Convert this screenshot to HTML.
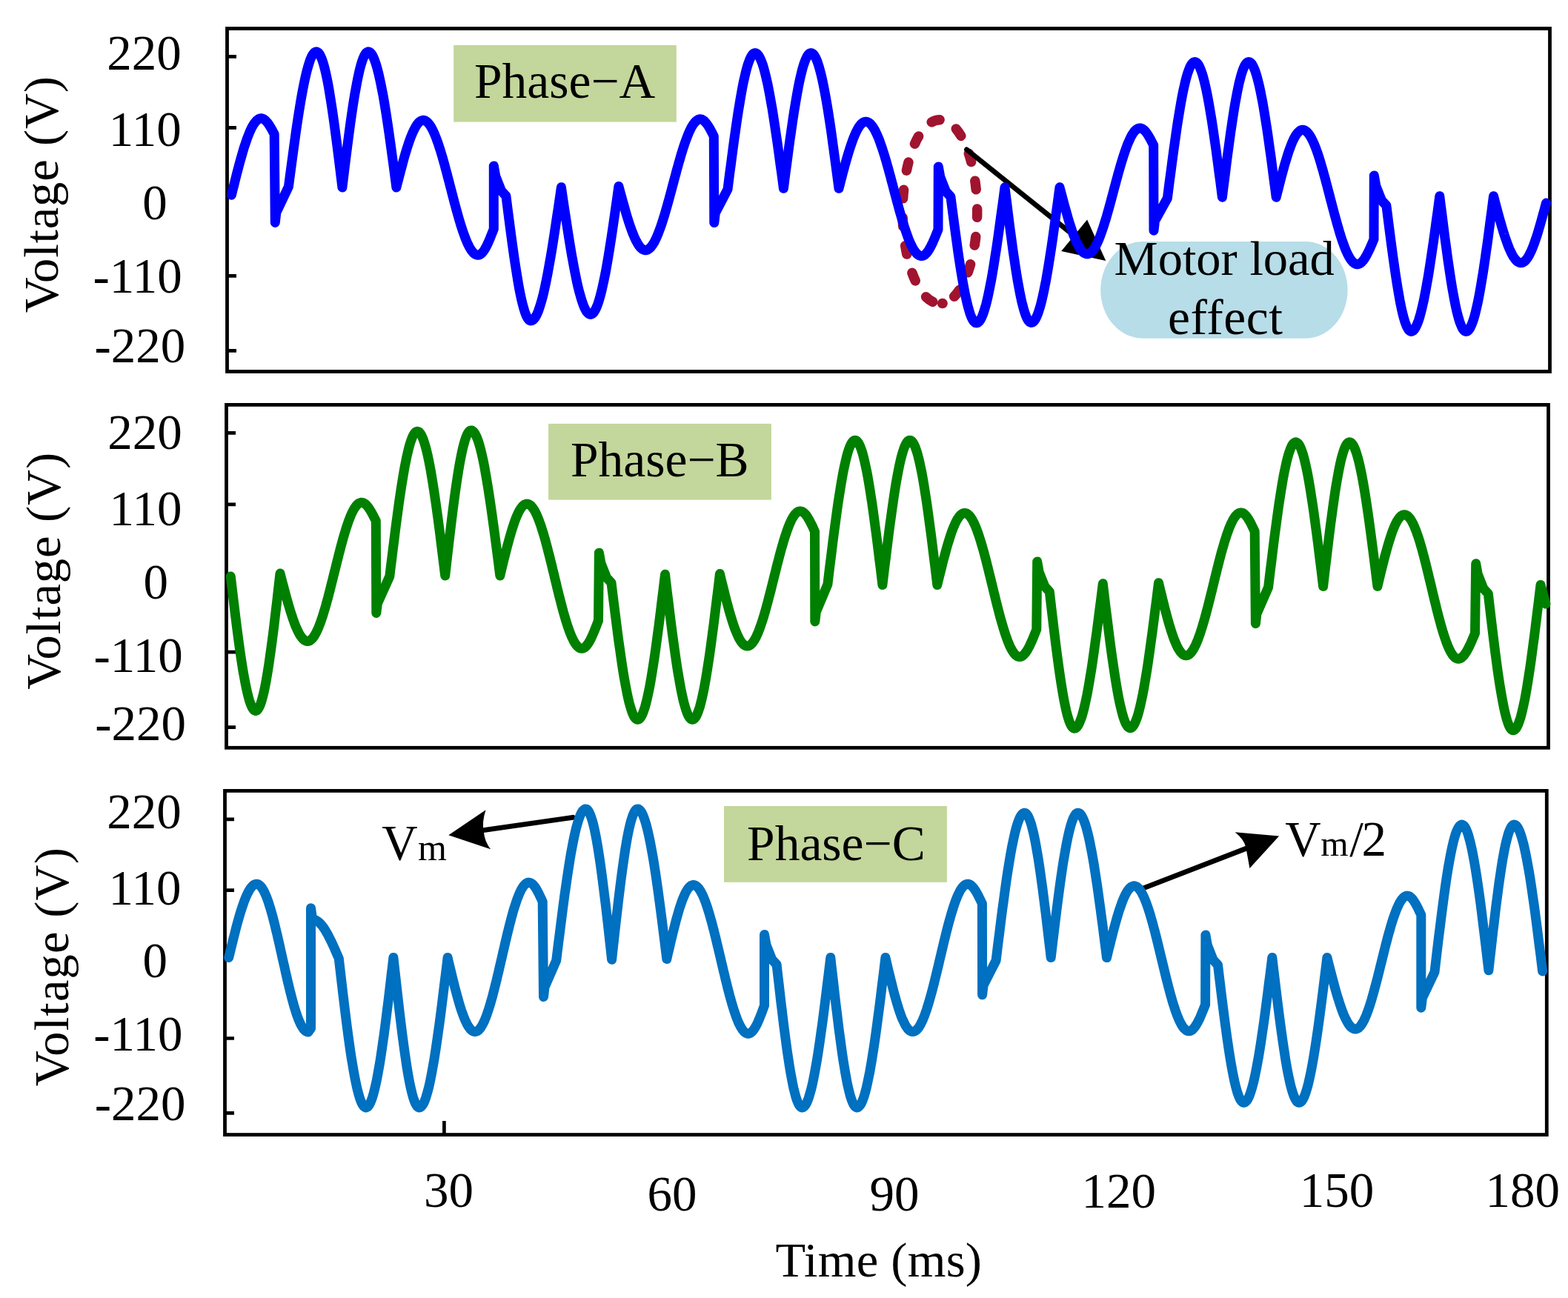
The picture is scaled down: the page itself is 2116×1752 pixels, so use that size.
<!DOCTYPE html>
<html><head><meta charset="utf-8"><title>Three-phase voltage waveforms</title>
<style>
html,body{margin:0;padding:0;background:#fff;}
svg{display:block;}
text{font-family:"Liberation Serif","Times New Roman",serif;fill:#000;}
</style></head>
<body>
<svg width="2116" height="1752" viewBox="0 0 2116 1752">
<rect x="0" y="0" width="2116" height="1752" fill="#fff"/>
<!-- frames -->
<g fill="none" stroke="#000" stroke-width="4.8">
<rect x="306.5" y="38.5" width="1785" height="463"/>
<rect x="305.5" y="546.4" width="1784" height="462.9"/>
<rect x="303.5" y="1067.4" width="1783.8" height="464.2"/>
</g>
<g stroke="#000" stroke-width="4.7" stroke-linecap="butt">
<path d="M306.5 76.4H319M306.5 172.4H319M306.5 372.3H319M306.5 473.4H319"/>
<path d="M305.5 584.4H318M305.5 680.8H318M305.5 880.1H318M305.5 981.6H318"/>
<path d="M303.5 1105.9H316M303.5 1201.7H316M303.5 1401.5H316M303.5 1502.4H316"/>
<path d="M599.4 1531.6V1513"/>
</g>
<!-- label boxes -->
<rect x="612.2" y="61" width="300.6" height="103.6" fill="#C3D69B"/>
<rect x="740.1" y="571.9" width="300.8" height="102.7" fill="#C3D69B"/>
<rect x="977" y="1088" width="300.9" height="102.8" fill="#C3D69B"/>
<rect x="1485.2" y="326.1" width="333.4" height="130.6" rx="57" ry="65.3" fill="#B7DDE8"/>
<!-- ellipse -->
<g fill="none" stroke="#A0142F" stroke-width="13.5" stroke-linecap="round"><path d="M1268.4 409.7 A50.3 124 0 0 1 1268.4 161.7 A50.3 124 0 0 1 1268.4 409.7" stroke-dasharray="11.5 26.25" stroke-dashoffset="27.8"/><path d="M1271.6 409.5 l0.5 0"/></g>
<!-- arrows -->
<g stroke="#000" stroke-linecap="round" fill="none">
<line x1="1304.5" y1="201.9" x2="1470" y2="334.5" stroke-width="6.8"/>
<line x1="773" y1="1103.3" x2="640" y2="1122.3" stroke-width="6.8"/>
<line x1="1543.6" y1="1198.6" x2="1690" y2="1142" stroke-width="6.8"/>
</g>
<g fill="#000">
<polygon points="1492.3,352.1 1467.1,296.5 1432.2,338.9"/>
<path d="M605.3 1127.2 L655.5 1093.3 Q650 1110 652.9 1123.2 Q654 1136 662.1 1146.2 Z"/>
<path d="M1726.1 1128.5 L1666.6 1123.2 Q1678 1132 1681.1 1143 Q1684 1158 1686.4 1172.1 Z"/>
</g>
<!-- traces -->
<g fill="none" stroke-width="13" stroke-linejoin="round" stroke-linecap="round">
<polyline stroke="#0000FF" points="312.4,263.2 313.8,257.4 315.3,251.6 316.7,245.9 318.1,240.2 319.5,234.6 321.0,229.0 322.4,223.6 323.8,218.3 325.3,213.2 326.7,208.2 328.1,203.4 329.5,198.7 331.0,194.3 332.4,190.1 333.8,186.1 335.3,182.4 336.7,178.9 338.1,175.6 339.5,172.7 341.0,170.0 342.4,167.7 343.8,165.6 345.3,163.8 346.7,162.4 348.1,161.3 349.5,160.5 351.0,160.0 352.4,159.8 353.8,160.0 355.1,160.4 356.5,161.2 357.9,162.2 359.2,163.6 360.6,165.1 362.0,166.9 363.4,169.0 364.7,171.1 366.1,173.5 367.5,175.9 368.8,178.4 370.2,181.0 371.3,300.4 372.8,287.0 389.4,252.0 390.8,241.4 392.2,230.8 393.6,220.4 395.0,210.0 396.4,199.7 397.8,189.7 399.1,179.8 400.5,170.2 401.9,160.9 403.3,151.9 404.7,143.2 406.1,134.9 407.5,127.0 408.9,119.5 410.3,112.4 411.7,105.9 413.1,99.8 414.5,94.2 415.9,89.2 417.3,84.7 418.6,80.8 420.0,77.5 421.4,74.7 422.8,72.6 424.2,71.0 425.6,70.1 427.0,69.8 428.4,70.2 429.8,71.2 431.2,73.0 432.6,75.6 434.0,78.8 435.4,82.7 436.8,87.2 438.2,92.5 439.6,98.3 441.0,104.8 442.4,111.8 443.8,119.5 445.1,127.6 446.5,136.2 447.9,145.3 449.3,154.8 450.7,164.7 452.1,175.0 453.5,185.6 454.9,196.4 456.3,207.4 457.7,218.7 459.1,230.0 460.5,241.5 461.9,253.0 463.3,241.5 464.7,230.0 466.1,218.7 467.5,207.4 468.9,196.4 470.3,185.6 471.7,175.0 473.1,164.7 474.5,154.8 475.9,145.3 477.3,136.2 478.7,127.6 480.2,119.5 481.6,111.8 483.0,104.8 484.4,98.3 485.8,92.5 487.2,87.2 488.6,82.7 490.0,78.8 491.4,75.6 492.8,73.0 494.2,71.2 495.6,70.2 497.0,69.8 498.4,70.1 499.8,71.0 501.2,72.6 502.6,74.7 504.0,77.5 505.4,80.8 506.8,84.8 508.2,89.3 509.6,94.3 511.0,99.9 512.4,106.1 513.8,112.7 515.2,119.7 516.7,127.3 518.1,135.2 519.5,143.6 520.9,152.3 522.3,161.4 523.7,170.8 525.1,180.4 526.5,190.3 527.9,200.5 529.3,210.8 530.7,221.2 532.1,231.7 533.5,242.3 534.9,253.0 536.3,247.5 537.7,242.1 539.1,236.7 540.5,231.3 541.9,226.0 543.3,220.8 544.6,215.8 546.0,210.8 547.4,206.1 548.8,201.5 550.2,197.1 551.6,192.9 553.0,188.9 554.4,185.1 555.8,181.6 557.2,178.4 558.6,175.4 560.0,172.7 561.4,170.3 562.7,168.2 564.1,166.4 565.5,164.9 566.9,163.8 568.3,163.0 569.7,162.5 571.1,162.3 572.5,162.5 574.0,163.0 575.4,163.8 576.9,165.0 578.3,166.6 579.8,168.4 581.2,170.6 582.7,173.1 584.1,175.9 585.6,179.0 587.0,182.4 588.5,186.1 589.9,190.0 591.4,194.1 592.8,198.5 594.3,203.0 595.7,207.8 597.2,212.7 598.6,217.8 600.1,223.1 601.5,228.4 603.0,233.8 604.4,239.3 605.9,244.9 607.3,250.5 608.8,256.1 610.2,261.7 611.7,267.3 613.1,272.8 614.6,278.2 616.0,283.5 617.5,288.8 618.9,293.9 620.4,298.8 621.8,303.6 623.3,308.1 624.7,312.5 626.2,316.6 627.6,320.5 629.1,324.2 630.5,327.6 632.0,330.7 633.4,333.5 634.9,336.0 636.3,338.2 637.8,340.0 639.2,341.6 640.7,342.8 642.1,343.6 643.6,344.1 645.0,344.3 646.3,344.1 647.7,343.6 649.0,342.8 650.3,341.6 651.7,340.1 653.0,338.4 654.3,336.3 655.6,334.0 657.0,331.4 658.3,328.6 659.6,325.6 661.0,322.5 662.3,319.2 663.6,315.9 665.0,312.5 666.3,309.0 666.3,224.0 668.8,238.0 676.5,257.5 682.9,264.5 684.3,275.5 685.7,286.5 687.1,297.4 688.5,308.1 689.9,318.7 691.3,329.0 692.7,339.0 694.1,348.8 695.5,358.1 696.9,367.1 698.3,375.6 699.6,383.6 701.0,391.2 702.4,398.2 703.8,404.6 705.2,410.4 706.6,415.6 708.0,420.2 709.4,424.1 710.8,427.3 712.2,429.8 713.6,431.6 715.0,432.6 716.4,433.0 717.8,432.7 719.2,431.9 720.6,430.6 722.1,428.8 723.5,426.4 724.9,423.6 726.3,420.2 727.7,416.3 729.1,412.0 730.5,407.2 732.0,401.9 733.4,396.3 734.8,390.1 736.2,383.6 737.6,376.7 739.0,369.5 740.4,361.9 741.8,353.9 743.3,345.7 744.7,337.2 746.1,328.5 747.5,319.5 748.9,310.3 750.3,301.0 751.7,291.5 753.2,282.0 754.6,272.3 756.0,262.6 757.4,252.8 758.8,262.4 760.2,272.0 761.6,281.5 763.1,291.0 764.5,300.3 765.9,309.5 767.3,318.5 768.7,327.3 770.1,335.8 771.5,344.1 773.0,352.1 774.4,359.8 775.8,367.1 777.2,374.1 778.6,380.8 780.0,387.0 781.4,392.8 782.9,398.1 784.3,403.0 785.7,407.4 787.1,411.3 788.5,414.8 789.9,417.7 791.3,420.1 792.8,422.0 794.2,423.3 795.6,424.1 797.0,424.4 798.4,424.1 799.8,423.2 801.2,421.8 802.6,419.7 804.0,417.1 805.4,414.0 806.8,410.3 808.2,406.0 809.6,401.2 811.0,396.0 812.4,390.2 813.8,383.9 815.2,377.3 816.7,370.2 818.1,362.6 819.5,354.7 820.9,346.5 822.3,337.9 823.7,329.1 825.1,320.0 826.5,310.6 827.9,301.1 829.3,291.4 830.7,281.5 832.1,271.6 833.5,261.6 834.9,251.5 836.3,256.7 837.7,261.9 839.1,267.0 840.5,272.1 841.9,277.1 843.3,282.1 844.6,286.9 846.0,291.6 847.4,296.1 848.8,300.5 850.2,304.7 851.6,308.7 853.0,312.5 854.4,316.0 855.8,319.4 857.2,322.4 858.6,325.3 860.0,327.8 861.4,330.1 862.7,332.1 864.1,333.8 865.5,335.2 866.9,336.3 868.3,337.1 869.7,337.5 871.1,337.7 872.5,337.5 874.0,337.0 875.4,336.2 876.9,335.0 878.3,333.5 879.8,331.7 881.2,329.6 882.7,327.2 884.1,324.5 885.6,321.4 887.0,318.2 888.5,314.6 889.9,310.8 891.4,306.8 892.8,302.6 894.3,298.1 895.7,293.5 897.2,288.7 898.6,283.7 900.1,278.6 901.5,273.5 903.0,268.2 904.4,262.8 905.9,257.4 907.3,252.0 908.8,246.5 910.2,241.1 911.7,235.7 913.1,230.3 914.6,225.0 916.0,219.9 917.5,214.8 918.9,209.8 920.4,205.0 921.8,200.4 923.3,195.9 924.7,191.7 926.2,187.7 927.6,183.9 929.1,180.3 930.5,177.1 932.0,174.0 933.4,171.3 934.9,168.9 936.3,166.8 937.8,165.0 939.2,163.5 940.7,162.3 942.1,161.5 943.6,161.0 945.0,160.8 946.3,160.9 947.6,161.4 948.9,162.1 950.2,163.1 951.5,164.4 952.8,165.9 954.1,167.6 955.5,169.5 956.8,171.7 958.1,173.9 959.4,176.3 960.7,178.8 962.0,181.4 963.3,184.0 963.8,300.6 965.3,287.6 982.0,255.5 983.4,244.4 984.8,233.3 986.3,222.4 987.7,211.5 989.1,200.8 990.5,190.3 992.0,180.0 993.4,170.0 994.8,160.4 996.2,151.0 997.7,142.1 999.1,133.6 1000.5,125.5 1001.9,117.8 1003.3,110.7 1004.8,104.2 1006.2,98.1 1007.6,92.7 1009.0,87.8 1010.5,83.6 1011.9,79.9 1013.3,76.9 1014.7,74.6 1016.2,72.9 1017.6,71.9 1019.0,71.6 1020.4,71.9 1021.8,72.8 1023.3,74.4 1024.7,76.5 1026.1,79.3 1027.5,82.6 1029.0,86.5 1030.4,91.0 1031.8,96.1 1033.2,101.7 1034.6,107.8 1036.1,114.3 1037.5,121.4 1038.9,128.9 1040.3,136.9 1041.8,145.2 1043.2,153.9 1044.6,162.9 1046.0,172.3 1047.4,181.9 1048.9,191.8 1050.3,201.9 1051.7,212.2 1053.1,222.6 1054.6,233.1 1056.0,243.7 1057.4,254.3 1058.8,243.3 1060.2,232.3 1061.7,221.4 1063.1,210.6 1064.5,199.9 1065.9,189.5 1067.4,179.3 1068.8,169.4 1070.2,159.8 1071.6,150.5 1073.1,141.6 1074.5,133.1 1075.9,125.1 1077.3,117.5 1078.7,110.5 1080.2,103.9 1081.6,97.9 1083.0,92.5 1084.4,87.7 1085.9,83.5 1087.3,79.9 1088.7,76.9 1090.1,74.6 1091.6,72.9 1093.0,71.9 1094.4,71.6 1095.8,71.9 1097.2,72.8 1098.6,74.4 1100.0,76.5 1101.4,79.3 1102.8,82.6 1104.1,86.5 1105.5,91.0 1106.9,96.1 1108.3,101.7 1109.7,107.8 1111.1,114.3 1112.5,121.4 1113.9,128.9 1115.3,136.9 1116.7,145.2 1118.1,153.9 1119.5,162.9 1120.9,172.3 1122.3,181.9 1123.6,191.8 1125.0,201.9 1126.4,212.2 1127.8,222.6 1129.2,233.1 1130.6,243.7 1132.0,254.3 1133.4,248.9 1134.8,243.4 1136.2,238.1 1137.6,232.7 1139.0,227.5 1140.4,222.4 1141.8,217.3 1143.2,212.4 1144.6,207.7 1146.0,203.1 1147.4,198.7 1148.8,194.6 1150.2,190.6 1151.6,186.9 1153.0,183.4 1154.4,180.1 1155.8,177.2 1157.2,174.5 1158.6,172.1 1160.0,170.1 1161.4,168.3 1162.8,166.8 1164.2,165.7 1165.6,164.9 1167.0,164.4 1168.4,164.2 1169.8,164.4 1171.3,164.9 1172.7,165.7 1174.2,166.8 1175.6,168.3 1177.1,170.1 1178.5,172.2 1180.0,174.6 1181.4,177.3 1182.9,180.3 1184.3,183.5 1185.8,187.0 1187.2,190.8 1188.6,194.8 1190.1,199.0 1191.5,203.4 1193.0,208.0 1194.4,212.7 1195.9,217.7 1197.3,222.7 1198.8,227.9 1200.2,233.2 1201.7,238.6 1203.1,244.0 1204.6,249.4 1206.0,254.9 1207.4,260.4 1208.9,265.8 1210.3,271.2 1211.8,276.6 1213.2,281.9 1214.7,287.1 1216.1,292.1 1217.6,297.1 1219.0,301.8 1220.5,306.4 1221.9,310.8 1223.4,315.0 1224.8,319.0 1226.2,322.8 1227.7,326.3 1229.1,329.5 1230.6,332.5 1232.0,335.2 1233.5,337.6 1234.9,339.7 1236.4,341.5 1237.8,343.0 1239.3,344.1 1240.7,344.9 1242.2,345.4 1243.6,345.6 1245.0,345.4 1246.4,344.9 1247.8,344.1 1249.2,342.9 1250.6,341.4 1252.0,339.6 1253.4,337.5 1254.8,335.1 1256.2,332.5 1257.6,329.7 1259.0,326.7 1260.4,323.5 1261.8,320.2 1263.2,316.8 1264.6,313.3 1266.0,309.8 1266.3,225.0 1268.8,239.0 1276.5,258.5 1282.9,265.5 1284.3,276.2 1285.7,286.9 1287.1,297.4 1288.5,307.9 1289.9,318.2 1291.3,328.3 1292.6,338.1 1294.0,347.6 1295.4,356.9 1296.8,365.7 1298.2,374.2 1299.6,382.2 1301.0,389.8 1302.4,396.9 1303.8,403.4 1305.2,409.5 1306.6,414.9 1308.0,419.8 1309.3,424.0 1310.7,427.7 1312.1,430.6 1313.5,433.0 1314.9,434.7 1316.3,435.7 1317.7,436.0 1319.1,435.7 1320.5,434.8 1322.0,433.2 1323.4,431.1 1324.8,428.3 1326.2,425.0 1327.6,421.0 1329.0,416.5 1330.5,411.5 1331.9,405.9 1333.3,399.7 1334.7,393.1 1336.1,386.1 1337.6,378.5 1339.0,370.6 1340.4,362.2 1341.8,353.5 1343.2,344.4 1344.7,335.0 1346.1,325.4 1347.5,315.5 1348.9,305.3 1350.3,295.0 1351.7,284.6 1353.2,274.1 1354.6,263.5 1356.0,252.8 1357.4,264.3 1358.9,275.7 1360.3,287.0 1361.7,298.2 1363.1,309.3 1364.6,320.1 1366.0,330.6 1367.4,340.8 1368.9,350.7 1370.3,360.2 1371.7,369.3 1373.1,377.9 1374.6,386.0 1376.0,393.6 1377.4,400.6 1378.8,407.1 1380.3,412.9 1381.7,418.1 1383.1,422.7 1384.6,426.6 1386.0,429.8 1387.4,432.3 1388.8,434.1 1390.3,435.1 1391.7,435.5 1393.1,435.2 1394.5,434.3 1396.0,432.7 1397.4,430.6 1398.8,427.8 1400.2,424.5 1401.6,420.6 1403.0,416.1 1404.5,411.0 1405.9,405.4 1407.3,399.3 1408.7,392.8 1410.1,385.7 1411.6,378.2 1413.0,370.2 1414.4,361.9 1415.8,353.2 1417.2,344.2 1418.7,334.8 1420.1,325.2 1421.5,315.3 1422.9,305.2 1424.3,294.9 1425.7,284.5 1427.2,274.0 1428.6,263.4 1430.0,252.8 1431.4,258.2 1432.9,263.7 1434.3,269.0 1435.7,274.4 1437.1,279.6 1438.6,284.7 1440.0,289.8 1441.4,294.7 1442.8,299.4 1444.3,304.0 1445.7,308.4 1447.1,312.5 1448.5,316.5 1450.0,320.2 1451.4,323.7 1452.8,327.0 1454.3,329.9 1455.7,332.6 1457.1,335.0 1458.5,337.0 1460.0,338.8 1461.4,340.3 1462.8,341.4 1464.2,342.2 1465.7,342.7 1467.1,342.9 1468.6,342.7 1470.0,342.2 1471.5,341.3 1472.9,340.1 1474.4,338.6 1475.8,336.7 1477.3,334.5 1478.7,332.0 1480.2,329.1 1481.6,326.0 1483.1,322.6 1484.5,319.0 1486.0,315.0 1487.4,310.9 1488.9,306.5 1490.3,302.0 1491.8,297.2 1493.3,292.3 1494.7,287.3 1496.2,282.1 1497.6,276.8 1499.1,271.5 1500.5,266.1 1502.0,260.6 1503.4,255.2 1504.9,249.7 1506.3,244.3 1507.8,239.0 1509.2,233.7 1510.7,228.5 1512.1,223.5 1513.6,218.6 1515.1,213.8 1516.5,209.3 1518.0,204.9 1519.4,200.8 1520.9,196.8 1522.3,193.2 1523.8,189.8 1525.2,186.7 1526.7,183.8 1528.1,181.3 1529.6,179.1 1531.0,177.2 1532.5,175.7 1533.9,174.5 1535.4,173.6 1536.8,173.1 1538.3,172.9 1539.6,173.0 1540.9,173.5 1542.2,174.2 1543.6,175.2 1544.9,176.4 1546.2,177.9 1547.5,179.7 1548.8,181.6 1550.1,183.7 1551.4,186.0 1552.8,188.4 1554.1,190.9 1555.4,193.4 1556.7,196.0 1557.0,311.2 1558.5,298.2 1575.4,267.5 1576.8,256.4 1578.2,245.3 1579.7,234.3 1581.1,223.5 1582.5,212.8 1583.9,202.3 1585.4,192.0 1586.8,182.0 1588.2,172.3 1589.6,163.0 1591.1,154.0 1592.5,145.5 1593.9,137.4 1595.3,129.8 1596.7,122.7 1598.2,116.1 1599.6,110.0 1601.0,104.6 1602.4,99.7 1603.9,95.5 1605.3,91.8 1606.7,88.8 1608.1,86.5 1609.6,84.8 1611.0,83.8 1612.4,83.5 1613.8,83.8 1615.2,84.8 1616.7,86.5 1618.1,88.8 1619.5,91.8 1620.9,95.4 1622.4,99.6 1623.8,104.4 1625.2,109.8 1626.6,115.8 1628.1,122.4 1629.5,129.4 1630.9,137.0 1632.3,145.0 1633.7,153.5 1635.2,162.4 1636.6,171.7 1638.0,181.3 1639.4,191.2 1640.9,201.4 1642.3,211.8 1643.7,222.5 1645.1,233.3 1646.6,244.2 1648.0,255.2 1649.4,266.2 1650.8,254.7 1652.3,243.3 1653.7,232.0 1655.1,220.8 1656.5,209.7 1658.0,198.9 1659.4,188.4 1660.8,178.2 1662.3,168.3 1663.7,158.8 1665.1,149.7 1666.5,141.1 1668.0,133.0 1669.4,125.4 1670.8,118.4 1672.2,111.9 1673.7,106.1 1675.1,100.9 1676.5,96.3 1678.0,92.4 1679.4,89.2 1680.8,86.7 1682.2,84.9 1683.7,83.9 1685.1,83.5 1686.5,83.8 1688.0,84.8 1689.4,86.5 1690.8,88.8 1692.2,91.8 1693.7,95.4 1695.1,99.6 1696.5,104.4 1697.9,109.8 1699.4,115.8 1700.8,122.4 1702.2,129.4 1703.7,137.0 1705.1,145.0 1706.5,153.5 1707.9,162.4 1709.4,171.7 1710.8,181.3 1712.2,191.2 1713.6,201.4 1715.1,211.8 1716.5,222.5 1717.9,233.3 1719.3,244.2 1720.8,255.2 1722.2,266.2 1723.6,260.5 1725.1,254.8 1726.5,249.2 1727.9,243.6 1729.3,238.1 1730.8,232.7 1732.2,227.5 1733.6,222.4 1735.1,217.5 1736.5,212.8 1737.9,208.3 1739.3,204.0 1740.8,199.9 1742.2,196.2 1743.6,192.7 1745.0,189.5 1746.5,186.5 1747.9,184.0 1749.3,181.7 1750.8,179.7 1752.2,178.2 1753.6,176.9 1755.0,176.0 1756.5,175.5 1757.9,175.3 1759.3,175.5 1760.8,176.0 1762.2,176.8 1763.7,178.0 1765.1,179.6 1766.6,181.4 1768.0,183.6 1769.5,186.1 1770.9,188.9 1772.4,192.0 1773.8,195.3 1775.3,199.0 1776.7,202.9 1778.2,207.0 1779.6,211.3 1781.1,215.9 1782.5,220.7 1783.9,225.6 1785.4,230.6 1786.8,235.9 1788.3,241.2 1789.7,246.6 1791.2,252.1 1792.6,257.6 1794.1,263.2 1795.5,268.8 1797.0,274.4 1798.4,279.9 1799.9,285.4 1801.3,290.8 1802.8,296.1 1804.2,301.4 1805.7,306.4 1807.1,311.3 1808.5,316.1 1810.0,320.7 1811.4,325.0 1812.9,329.1 1814.3,333.0 1815.8,336.7 1817.2,340.0 1818.7,343.1 1820.1,345.9 1821.6,348.4 1823.0,350.6 1824.5,352.4 1825.9,354.0 1827.4,355.2 1828.8,356.0 1830.3,356.5 1831.7,356.7 1833.1,356.5 1834.5,356.1 1835.9,355.2 1837.3,354.1 1838.7,352.7 1840.1,351.0 1841.5,349.1 1842.8,346.8 1844.2,344.4 1845.6,341.7 1847.0,338.9 1848.4,335.9 1849.8,332.8 1851.2,329.6 1852.6,326.3 1854.0,323.0 1854.3,237.0 1856.8,251.0 1864.5,270.5 1870.9,277.5 1872.3,288.6 1873.7,299.7 1875.1,310.6 1876.5,321.5 1877.9,332.1 1879.3,342.5 1880.7,352.6 1882.1,362.4 1883.5,371.9 1884.9,380.9 1886.3,389.5 1887.7,397.6 1889.0,405.2 1890.4,412.3 1891.8,418.8 1893.2,424.6 1894.6,429.9 1896.0,434.5 1897.4,438.4 1898.8,441.6 1900.2,444.1 1901.6,445.9 1903.0,447.0 1904.4,447.4 1905.8,447.1 1907.2,446.2 1908.7,444.6 1910.1,442.5 1911.5,439.7 1912.9,436.4 1914.4,432.5 1915.8,428.0 1917.2,422.9 1918.6,417.3 1920.0,411.2 1921.5,404.7 1922.9,397.6 1924.3,390.1 1925.7,382.1 1927.2,373.8 1928.6,365.1 1930.0,356.1 1931.4,346.7 1932.8,337.1 1934.3,327.2 1935.7,317.1 1937.1,306.8 1938.5,296.4 1940.0,285.9 1941.4,275.3 1942.8,264.7 1944.2,276.2 1945.7,287.6 1947.1,298.9 1948.5,310.1 1949.9,321.2 1951.4,332.0 1952.8,342.5 1954.2,352.7 1955.7,362.6 1957.1,372.1 1958.5,381.2 1959.9,389.8 1961.4,397.9 1962.8,405.5 1964.2,412.5 1965.6,419.0 1967.1,424.8 1968.5,430.0 1969.9,434.6 1971.4,438.5 1972.8,441.7 1974.2,444.2 1975.6,446.0 1977.1,447.0 1978.5,447.4 1979.9,447.1 1981.3,446.1 1982.8,444.4 1984.2,442.1 1985.6,439.1 1987.0,435.5 1988.5,431.3 1989.9,426.5 1991.3,421.1 1992.7,415.1 1994.2,408.5 1995.6,401.5 1997.0,393.9 1998.4,385.9 1999.8,377.4 2001.3,368.5 2002.7,359.2 2004.1,349.6 2005.5,339.7 2007.0,329.5 2008.4,319.1 2009.8,308.4 2011.2,297.6 2012.7,286.7 2014.1,275.7 2015.5,264.7 2016.9,270.1 2018.3,275.6 2019.8,280.9 2021.2,286.3 2022.6,291.5 2024.0,296.6 2025.5,301.7 2026.9,306.6 2028.3,311.3 2029.7,315.9 2031.2,320.3 2032.6,324.4 2034.0,328.4 2035.4,332.1 2036.8,335.6 2038.3,338.9 2039.7,341.8 2041.1,344.5 2042.5,346.9 2044.0,348.9 2045.4,350.7 2046.8,352.2 2048.2,353.3 2049.7,354.1 2051.1,354.6 2052.5,354.8 2053.9,354.6 2055.3,354.1 2056.8,353.2 2058.2,352.0 2059.6,350.5 2061.0,348.6 2062.4,346.5 2063.8,344.0 2065.2,341.2 2066.7,338.1 2068.1,334.7 2069.5,331.1 2070.9,327.3 2072.3,323.2 2073.8,318.9 2075.2,314.4 2076.6,309.7 2078.0,304.9 2079.4,300.0 2080.8,294.9 2082.2,289.8 2083.7,284.5 2085.1,279.3 2086.5,274.0"/>
<polyline stroke="#008000" points="311.3,778.0 312.7,789.9 314.1,801.7 315.5,813.4 316.9,824.9 318.3,836.3 319.7,847.4 321.1,858.2 322.5,868.7 323.9,878.8 325.3,888.4 326.7,897.6 328.1,906.3 329.6,914.4 331.0,921.9 332.4,928.8 333.8,935.1 335.2,940.7 336.6,945.6 338.0,949.8 339.4,953.2 340.8,955.9 342.2,957.8 343.6,959.0 345.0,959.4 346.4,959.0 347.8,957.8 349.1,955.8 350.5,953.1 351.9,949.6 353.2,945.3 354.6,940.3 356.0,934.6 357.4,928.2 358.8,921.1 360.1,913.4 361.5,905.1 362.9,896.2 364.2,886.9 365.6,877.0 367.0,866.7 368.4,856.0 369.8,844.9 371.1,833.6 372.5,822.0 373.9,810.2 375.2,798.2 376.6,786.1 378.0,774.0 379.4,779.5 380.8,785.0 382.3,790.5 383.7,795.9 385.1,801.2 386.5,806.4 388.0,811.6 389.4,816.5 390.8,821.3 392.2,826.0 393.7,830.4 395.1,834.7 396.5,838.7 397.9,842.5 399.3,846.0 400.8,849.3 402.2,852.3 403.6,855.0 405.0,857.4 406.5,859.6 407.9,861.4 409.3,862.8 410.7,864.0 412.2,864.8 413.6,865.3 415.0,865.5 416.5,865.3 417.9,864.8 419.4,863.8 420.8,862.6 422.3,860.9 423.7,858.9 425.2,856.6 426.6,853.9 428.1,850.9 429.6,847.6 431.0,844.0 432.5,840.1 433.9,836.0 435.4,831.6 436.8,826.9 438.3,822.1 439.8,817.0 441.2,811.8 442.7,806.4 444.1,800.8 445.6,795.2 447.0,789.4 448.5,783.6 449.9,777.8 451.4,771.9 452.9,766.0 454.3,760.2 455.8,754.4 457.2,748.6 458.7,743.0 460.1,737.4 461.6,732.0 463.0,726.8 464.5,721.7 466.0,716.9 467.4,712.2 468.9,707.8 470.3,703.7 471.8,699.8 473.2,696.2 474.7,692.9 476.2,689.9 477.6,687.2 479.1,684.9 480.5,682.9 482.0,681.2 483.4,680.0 484.9,679.0 486.3,678.5 487.8,678.3 489.1,678.4 490.4,678.8 491.7,679.5 493.0,680.4 494.3,681.6 495.6,683.0 496.9,684.6 498.2,686.5 499.5,688.5 500.8,690.6 502.1,693.0 503.4,695.4 504.7,697.9 506.0,700.4 507.3,703.0 507.8,827.5 509.4,814.5 525.8,778.0 527.2,766.2 528.7,754.4 530.1,742.7 531.6,731.2 533.0,719.8 534.4,708.6 535.9,697.7 537.3,687.1 538.7,676.8 540.2,666.8 541.6,657.3 543.1,648.2 544.5,639.6 545.9,631.5 547.4,623.9 548.8,616.9 550.3,610.5 551.7,604.7 553.1,599.5 554.6,595.0 556.0,591.2 557.4,588.0 558.9,585.5 560.3,583.7 561.8,582.7 563.2,582.3 564.6,582.6 566.0,583.6 567.4,585.3 568.8,587.5 570.1,590.5 571.5,594.0 572.9,598.2 574.3,603.0 575.7,608.4 577.1,614.3 578.5,620.8 579.9,627.9 581.3,635.4 582.6,643.4 584.0,651.8 585.4,660.7 586.8,670.0 588.2,679.6 589.6,689.6 591.0,699.9 592.4,710.4 593.8,721.2 595.1,732.1 596.5,743.2 597.9,754.4 599.3,765.7 600.7,777.0 602.1,764.7 603.5,752.4 604.9,740.3 606.3,728.2 607.7,716.4 609.1,704.8 610.5,693.5 611.9,682.5 613.3,671.9 614.7,661.7 616.1,652.0 617.5,642.8 618.9,634.0 620.3,625.9 621.7,618.4 623.1,611.4 624.5,605.2 625.9,599.6 627.3,594.7 628.7,590.5 630.1,587.1 631.5,584.4 632.9,582.4 634.3,581.3 635.7,580.9 637.1,581.2 638.5,582.1 639.9,583.7 641.3,585.8 642.7,588.6 644.1,591.9 645.5,595.8 646.9,600.3 648.3,605.4 649.7,611.0 651.1,617.1 652.5,623.7 653.9,630.8 655.2,638.3 656.6,646.3 658.0,654.7 659.4,663.5 660.8,672.7 662.2,682.1 663.6,691.9 665.0,702.0 666.4,712.2 667.8,722.7 669.2,733.4 670.6,744.2 672.0,755.0 673.4,766.0 674.8,777.0 676.2,771.1 677.6,765.3 679.0,759.5 680.4,753.8 681.8,748.2 683.2,742.6 684.6,737.2 686.0,732.0 687.4,726.9 688.8,722.0 690.2,717.2 691.6,712.7 693.0,708.5 694.3,704.5 695.7,700.7 697.1,697.3 698.5,694.1 699.9,691.2 701.3,688.6 702.7,686.4 704.1,684.5 705.5,682.9 706.9,681.7 708.3,680.8 709.7,680.3 711.1,680.1 712.6,680.3 714.0,680.8 715.5,681.8 716.9,683.0 718.4,684.7 719.8,686.7 721.3,689.0 722.7,691.7 724.2,694.7 725.6,698.0 727.1,701.7 728.5,705.6 730.0,709.8 731.4,714.2 732.9,718.9 734.3,723.8 735.8,728.9 737.2,734.2 738.7,739.7 740.1,745.3 741.6,751.0 743.0,756.8 744.5,762.7 745.9,768.7 747.4,774.7 748.8,780.7 750.3,786.7 751.7,792.7 753.2,798.6 754.6,804.4 756.1,810.1 757.5,815.7 759.0,821.2 760.4,826.5 761.9,831.6 763.3,836.5 764.8,841.2 766.2,845.6 767.7,849.8 769.1,853.7 770.6,857.4 772.0,860.7 773.5,863.7 774.9,866.4 776.4,868.7 777.8,870.7 779.3,872.4 780.7,873.6 782.2,874.6 783.6,875.1 785.1,875.3 786.5,875.1 787.9,874.6 789.3,873.7 790.7,872.4 792.1,870.8 793.5,868.9 794.9,866.7 796.3,864.3 797.7,861.5 799.1,858.5 800.5,855.4 801.9,852.0 803.3,848.5 804.7,845.0 806.1,841.3 807.5,837.6 808.4,746.2 810.9,760.2 818.6,779.7 825.0,786.7 826.4,798.3 827.8,809.8 829.3,821.3 830.7,832.6 832.1,843.7 833.5,854.7 834.9,865.3 836.4,875.6 837.8,885.6 839.2,895.2 840.6,904.4 842.0,913.1 843.5,921.3 844.9,928.9 846.3,936.0 847.7,942.6 849.1,948.5 850.6,953.7 852.0,958.3 853.4,962.3 854.8,965.5 856.2,968.0 857.7,969.8 859.1,970.9 860.5,971.3 861.9,970.9 863.3,969.9 864.8,968.1 866.2,965.6 867.6,962.4 869.0,958.6 870.5,954.0 871.9,948.8 873.3,943.0 874.7,936.6 876.2,929.6 877.6,922.0 879.0,913.9 880.4,905.3 881.8,896.2 883.3,886.6 884.7,876.7 886.1,866.4 887.5,855.7 889.0,844.8 890.4,833.6 891.8,822.2 893.2,810.6 894.7,798.9 896.1,787.1 897.5,775.3 898.9,787.1 900.3,798.9 901.8,810.6 903.2,822.2 904.6,833.6 906.0,844.8 907.4,855.7 908.9,866.4 910.3,876.7 911.7,886.6 913.1,896.2 914.5,905.3 916.0,913.9 917.4,922.0 918.8,929.6 920.2,936.6 921.6,943.0 923.0,948.8 924.5,954.0 925.9,958.6 927.3,962.4 928.7,965.6 930.1,968.1 931.6,969.9 933.0,970.9 934.4,971.3 935.8,970.9 937.2,969.9 938.7,968.1 940.1,965.6 941.5,962.4 942.9,958.5 944.4,954.0 945.8,948.8 947.2,942.9 948.6,936.5 950.1,929.4 951.5,921.8 952.9,913.7 954.3,905.0 955.7,895.9 957.2,886.3 958.6,876.3 960.0,866.0 961.4,855.3 962.9,844.3 964.3,833.0 965.7,821.6 967.1,810.0 968.6,798.2 970.0,786.4 971.4,774.5 972.8,780.4 974.2,786.3 975.7,792.1 977.1,797.9 978.5,803.5 979.9,809.1 981.4,814.6 982.8,819.9 984.2,825.0 985.6,829.9 987.1,834.7 988.5,839.2 989.9,843.5 991.3,847.6 992.7,851.3 994.2,854.8 995.6,858.0 997.0,860.9 998.4,863.5 999.9,865.8 1001.3,867.7 1002.7,869.3 1004.1,870.5 1005.6,871.4 1007.0,871.9 1008.4,872.1 1009.9,871.9 1011.3,871.4 1012.8,870.4 1014.2,869.1 1015.7,867.5 1017.1,865.4 1018.6,863.1 1020.1,860.4 1021.5,857.3 1023.0,854.0 1024.4,850.4 1025.9,846.4 1027.3,842.2 1028.8,837.8 1030.3,833.1 1031.7,828.2 1033.2,823.1 1034.6,817.9 1036.1,812.5 1037.5,806.9 1039.0,801.3 1040.5,795.5 1041.9,789.7 1043.4,783.9 1044.8,778.1 1046.3,772.3 1047.7,766.5 1049.2,760.7 1050.7,755.1 1052.1,749.5 1053.6,744.1 1055.0,738.9 1056.5,733.8 1057.9,728.9 1059.4,724.2 1060.9,719.8 1062.3,715.6 1063.8,711.6 1065.2,708.0 1066.7,704.7 1068.1,701.6 1069.6,698.9 1071.1,696.6 1072.5,694.5 1074.0,692.9 1075.4,691.6 1076.9,690.6 1078.3,690.1 1079.8,689.9 1081.1,690.1 1082.4,690.5 1083.7,691.2 1085.1,692.3 1086.4,693.6 1087.7,695.1 1089.0,696.9 1090.3,699.0 1091.6,701.2 1092.9,703.6 1094.2,706.2 1095.6,708.8 1096.9,711.6 1098.2,714.4 1099.5,717.3 1099.8,839.0 1101.3,826.0 1116.9,788.7 1118.3,777.0 1119.7,765.3 1121.2,753.6 1122.6,742.2 1124.0,730.8 1125.4,719.7 1126.9,708.9 1128.3,698.3 1129.7,688.1 1131.1,678.2 1132.6,668.7 1134.0,659.7 1135.4,651.2 1136.8,643.1 1138.2,635.6 1139.7,628.6 1141.1,622.3 1142.5,616.5 1143.9,611.3 1145.4,606.8 1146.8,603.0 1148.2,599.9 1149.6,597.4 1151.1,595.6 1152.5,594.6 1153.9,594.2 1155.3,594.6 1156.7,595.6 1158.2,597.4 1159.6,599.9 1161.0,603.0 1162.4,606.9 1163.9,611.4 1165.3,616.6 1166.7,622.4 1168.1,628.8 1169.6,635.8 1171.0,643.3 1172.4,651.4 1173.8,660.0 1175.2,669.1 1176.7,678.6 1178.1,688.5 1179.5,698.8 1180.9,709.4 1182.4,720.3 1183.8,731.5 1185.2,742.8 1186.6,754.4 1188.1,766.0 1189.5,777.8 1190.9,789.6 1192.3,777.8 1193.7,766.0 1195.2,754.4 1196.6,742.8 1198.0,731.5 1199.4,720.3 1200.8,709.4 1202.3,698.8 1203.7,688.5 1205.1,678.6 1206.5,669.1 1207.9,660.0 1209.3,651.4 1210.8,643.3 1212.2,635.8 1213.6,628.8 1215.0,622.4 1216.4,616.6 1217.9,611.4 1219.3,606.9 1220.7,603.0 1222.1,599.9 1223.5,597.4 1225.0,595.6 1226.4,594.6 1227.8,594.2 1229.2,594.6 1230.6,595.6 1232.1,597.4 1233.5,599.9 1234.9,603.0 1236.3,606.9 1237.8,611.4 1239.2,616.6 1240.6,622.4 1242.0,628.8 1243.5,635.8 1244.9,643.3 1246.3,651.4 1247.7,660.0 1249.1,669.1 1250.6,678.6 1252.0,688.5 1253.4,698.8 1254.8,709.4 1256.3,720.3 1257.7,731.5 1259.1,742.8 1260.5,754.4 1262.0,766.0 1263.4,777.8 1264.8,789.6 1266.2,783.7 1267.6,777.9 1269.1,772.1 1270.5,766.4 1271.9,760.7 1273.3,755.2 1274.8,749.7 1276.2,744.5 1277.6,739.4 1279.0,734.4 1280.5,729.7 1281.9,725.2 1283.3,720.9 1284.7,716.9 1286.1,713.2 1287.6,709.7 1289.0,706.5 1290.4,703.6 1291.8,701.1 1293.3,698.8 1294.7,696.9 1296.1,695.3 1297.5,694.1 1299.0,693.2 1300.4,692.7 1301.8,692.5 1303.3,692.7 1304.7,693.2 1306.2,694.2 1307.6,695.4 1309.1,697.1 1310.5,699.1 1312.0,701.4 1313.4,704.0 1314.9,707.0 1316.3,710.3 1317.8,713.9 1319.2,717.8 1320.7,722.0 1322.1,726.4 1323.6,731.1 1325.0,735.9 1326.5,741.0 1328.0,746.3 1329.4,751.7 1330.9,757.3 1332.3,763.0 1333.8,768.8 1335.2,774.7 1336.7,780.6 1338.1,786.6 1339.6,792.5 1341.0,798.5 1342.5,804.4 1343.9,810.3 1345.4,816.1 1346.8,821.8 1348.3,827.4 1349.7,832.8 1351.2,838.1 1352.7,843.2 1354.1,848.0 1355.6,852.7 1357.0,857.1 1358.5,861.3 1359.9,865.2 1361.4,868.8 1362.8,872.1 1364.3,875.1 1365.7,877.7 1367.2,880.0 1368.6,882.0 1370.1,883.7 1371.5,884.9 1373.0,885.9 1374.4,886.4 1375.9,886.6 1377.2,886.4 1378.6,886.0 1379.9,885.2 1381.3,884.1 1382.6,882.7 1384.0,881.0 1385.3,879.1 1386.7,876.9 1388.0,874.5 1389.4,871.9 1390.7,869.0 1392.1,866.0 1393.4,862.9 1394.8,859.7 1396.1,856.3 1397.5,852.9 1398.8,849.5 1399.7,758.1 1402.2,772.1 1409.9,791.6 1416.3,798.6 1417.7,810.7 1419.1,822.7 1420.5,834.6 1421.9,846.4 1423.3,857.9 1424.7,869.2 1426.1,880.2 1427.5,890.9 1428.9,901.2 1430.3,911.0 1431.7,920.3 1433.1,929.1 1434.5,937.4 1435.9,945.1 1437.3,952.1 1438.7,958.5 1440.1,964.2 1441.5,969.1 1442.9,973.4 1444.3,976.9 1445.7,979.7 1447.1,981.6 1448.5,982.8 1449.9,983.2 1451.3,982.9 1452.7,981.9 1454.2,980.2 1455.6,977.9 1457.0,975.0 1458.4,971.4 1459.9,967.2 1461.3,962.4 1462.7,957.0 1464.1,951.1 1465.5,944.5 1467.0,937.5 1468.4,929.9 1469.8,921.9 1471.2,913.4 1472.7,904.5 1474.1,895.2 1475.5,885.5 1476.9,875.5 1478.3,865.2 1479.8,854.6 1481.2,843.8 1482.6,832.9 1484.0,821.7 1485.5,810.5 1486.9,799.2 1488.3,787.8 1489.7,799.6 1491.1,811.3 1492.5,822.9 1494.0,834.4 1495.4,845.8 1496.8,856.9 1498.2,867.8 1499.6,878.4 1501.0,888.6 1502.5,898.5 1503.9,908.0 1505.3,917.0 1506.7,925.6 1508.1,933.7 1509.5,941.2 1510.9,948.2 1512.4,954.6 1513.8,960.4 1515.2,965.5 1516.6,970.0 1518.0,973.9 1519.4,977.0 1520.9,979.5 1522.3,981.3 1523.7,982.3 1525.1,982.7 1526.5,982.4 1527.9,981.4 1529.4,979.7 1530.8,977.4 1532.2,974.5 1533.6,970.9 1535.1,966.7 1536.5,961.9 1537.9,956.4 1539.3,950.5 1540.7,943.9 1542.2,936.8 1543.6,929.3 1545.0,921.2 1546.4,912.7 1547.9,903.7 1549.3,894.4 1550.7,884.7 1552.1,874.7 1553.5,864.3 1555.0,853.7 1556.4,842.9 1557.8,831.9 1559.2,820.7 1560.7,809.5 1562.1,798.1 1563.5,786.7 1564.9,792.6 1566.3,798.5 1567.8,804.4 1569.2,810.2 1570.6,815.9 1572.0,821.5 1573.5,827.0 1574.9,832.3 1576.3,837.5 1577.7,842.4 1579.2,847.2 1580.6,851.8 1582.0,856.1 1583.4,860.1 1584.8,863.9 1586.3,867.4 1587.7,870.7 1589.1,873.6 1590.5,876.2 1592.0,878.4 1593.4,880.4 1594.8,881.9 1596.2,883.2 1597.7,884.1 1599.1,884.6 1600.5,884.8 1602.0,884.6 1603.4,884.1 1604.9,883.2 1606.3,881.9 1607.8,880.3 1609.2,878.3 1610.7,876.0 1612.1,873.3 1613.6,870.4 1615.0,867.1 1616.5,863.5 1617.9,859.6 1619.4,855.5 1620.8,851.1 1622.3,846.5 1623.7,841.6 1625.2,836.6 1626.7,831.4 1628.1,826.0 1629.6,820.4 1631.0,814.8 1632.5,809.0 1633.9,803.2 1635.4,797.3 1636.8,791.4 1638.3,785.4 1639.7,779.5 1641.2,773.6 1642.6,767.8 1644.1,762.0 1645.5,756.4 1647.0,750.8 1648.4,745.4 1649.9,740.2 1651.4,735.2 1652.8,730.3 1654.3,725.7 1655.7,721.3 1657.2,717.2 1658.6,713.3 1660.1,709.7 1661.5,706.4 1663.0,703.5 1664.4,700.8 1665.9,698.5 1667.3,696.5 1668.8,694.9 1670.2,693.6 1671.7,692.7 1673.1,692.2 1674.6,692.0 1675.9,692.2 1677.3,692.6 1678.6,693.4 1679.9,694.5 1681.2,695.9 1682.6,697.5 1683.9,699.4 1685.2,701.5 1686.6,703.8 1687.9,706.3 1689.2,708.9 1690.5,711.7 1691.9,714.5 1693.2,717.3 1694.4,841.7 1695.9,828.7 1711.6,792.6 1713.0,780.8 1714.4,769.0 1715.9,757.3 1717.3,745.7 1718.7,734.3 1720.1,723.2 1721.6,712.2 1723.0,701.6 1724.4,691.3 1725.8,681.4 1727.3,671.8 1728.7,662.8 1730.1,654.1 1731.5,646.0 1732.9,638.5 1734.4,631.5 1735.8,625.0 1737.2,619.2 1738.6,614.1 1740.1,609.5 1741.5,605.7 1742.9,602.5 1744.3,600.0 1745.8,598.2 1747.2,597.2 1748.6,596.8 1750.0,597.2 1751.4,598.2 1752.9,600.0 1754.3,602.5 1755.7,605.6 1757.1,609.4 1758.6,613.9 1760.0,619.1 1761.4,624.9 1762.8,631.2 1764.3,638.2 1765.7,645.7 1767.1,653.8 1768.5,662.4 1769.9,671.4 1771.4,680.9 1772.8,690.7 1774.2,701.0 1775.6,711.5 1777.1,722.4 1778.5,733.5 1779.9,744.8 1781.3,756.3 1782.8,767.9 1784.2,779.7 1785.6,791.4 1787.0,779.2 1788.4,767.0 1789.9,754.9 1791.3,743.0 1792.7,731.3 1794.1,719.8 1795.5,708.5 1797.0,697.7 1798.4,687.1 1799.8,677.0 1801.2,667.4 1802.6,658.2 1804.1,649.5 1805.5,641.5 1806.9,634.0 1808.3,627.1 1809.7,620.9 1811.2,615.3 1812.6,610.5 1814.0,606.3 1815.4,602.9 1816.8,600.2 1818.3,598.3 1819.7,597.2 1821.1,596.8 1822.5,597.1 1823.9,598.1 1825.3,599.8 1826.7,602.0 1828.1,605.0 1829.5,608.5 1830.9,612.7 1832.3,617.5 1833.7,622.9 1835.1,628.8 1836.5,635.3 1837.9,642.3 1839.3,649.9 1840.7,657.9 1842.1,666.3 1843.5,675.2 1844.9,684.5 1846.3,694.1 1847.7,704.1 1849.1,714.3 1850.5,724.8 1851.9,735.6 1853.3,746.5 1854.7,757.6 1856.1,768.8 1857.5,780.1 1858.9,791.4 1860.3,785.6 1861.7,779.7 1863.1,774.0 1864.5,768.3 1865.9,762.6 1867.3,757.1 1868.7,751.7 1870.1,746.5 1871.5,741.4 1872.9,736.5 1874.3,731.8 1875.7,727.3 1877.1,723.0 1878.4,719.0 1879.8,715.3 1881.2,711.8 1882.6,708.6 1884.0,705.8 1885.4,703.2 1886.8,701.0 1888.2,699.1 1889.6,697.5 1891.0,696.3 1892.4,695.4 1893.8,694.9 1895.2,694.7 1896.7,694.9 1898.1,695.5 1899.6,696.4 1901.0,697.8 1902.5,699.5 1903.9,701.5 1905.4,704.0 1906.8,706.7 1908.3,709.8 1909.7,713.3 1911.2,717.0 1912.6,721.1 1914.1,725.4 1915.6,730.0 1917.0,734.8 1918.5,739.9 1919.9,745.1 1921.4,750.6 1922.8,756.2 1924.3,761.9 1925.7,767.8 1927.2,773.8 1928.6,779.8 1930.1,785.9 1931.6,792.0 1933.0,798.1 1934.5,804.2 1935.9,810.2 1937.4,816.2 1938.8,822.1 1940.3,827.8 1941.7,833.4 1943.2,838.9 1944.6,844.1 1946.1,849.2 1947.5,854.0 1949.0,858.6 1950.5,862.9 1951.9,867.0 1953.4,870.7 1954.8,874.2 1956.3,877.3 1957.7,880.0 1959.2,882.5 1960.6,884.5 1962.1,886.2 1963.5,887.6 1965.0,888.5 1966.4,889.1 1967.9,889.3 1969.2,889.2 1970.6,888.7 1971.9,888.0 1973.2,887.0 1974.5,885.7 1975.9,884.1 1977.2,882.3 1978.5,880.3 1979.9,878.0 1981.2,875.6 1982.5,873.0 1983.9,870.2 1985.2,867.3 1986.5,864.2 1987.8,861.1 1989.2,858.0 1990.5,854.8 1991.7,760.8 1994.2,774.8 2001.9,794.3 2008.3,801.3 2009.7,813.4 2011.1,825.4 2012.5,837.3 2013.9,849.1 2015.3,860.6 2016.7,871.9 2018.1,882.9 2019.5,893.5 2020.9,903.8 2022.3,913.6 2023.7,922.9 2025.2,931.8 2026.6,940.0 2028.0,947.7 2029.4,954.7 2030.8,961.1 2032.2,966.8 2033.6,971.8 2035.0,976.0 2036.4,979.5 2037.8,982.3 2039.2,984.2 2040.6,985.4 2042.0,985.8 2043.4,985.4 2044.8,984.4 2046.3,982.6 2047.7,980.1 2049.1,976.9 2050.5,973.0 2052.0,968.5 2053.4,963.3 2054.8,957.5 2056.2,951.0 2057.7,944.0 2059.1,936.4 2060.5,928.3 2061.9,919.6 2063.3,910.5 2064.8,901.0 2066.2,891.0 2067.6,880.7 2069.0,870.0 2070.5,859.0 2071.9,847.8 2073.3,836.4 2074.7,824.8 2076.2,813.1 2077.6,801.3 2079.0,789.4 2086.0,815.0"/>
<polyline stroke="#0070C0" points="308.7,1292.5 310.1,1286.7 311.5,1281.0 312.9,1275.3 314.3,1269.6 315.7,1264.0 317.1,1258.5 318.4,1253.2 319.8,1247.9 321.2,1242.9 322.6,1237.9 324.0,1233.2 325.4,1228.7 326.8,1224.4 328.2,1220.3 329.6,1216.4 331.0,1212.8 332.4,1209.5 333.8,1206.5 335.2,1203.8 336.6,1201.3 337.9,1199.2 339.3,1197.4 340.7,1195.9 342.1,1194.7 343.5,1193.9 344.9,1193.4 346.3,1193.2 347.8,1193.4 349.2,1194.1 350.7,1195.1 352.1,1196.6 353.6,1198.5 355.0,1200.8 356.5,1203.5 357.9,1206.6 359.4,1210.0 360.8,1213.8 362.3,1218.0 363.7,1222.5 365.2,1227.2 366.6,1232.3 368.1,1237.6 369.5,1243.2 371.0,1248.9 372.4,1254.9 373.9,1261.0 375.3,1267.2 376.8,1273.6 378.2,1280.1 379.7,1286.6 381.1,1293.1 382.6,1299.6 384.1,1306.1 385.5,1312.6 387.0,1319.0 388.4,1325.2 389.9,1331.3 391.3,1337.3 392.8,1343.0 394.2,1348.6 395.7,1353.9 397.1,1359.0 398.6,1363.7 400.0,1368.2 401.5,1372.4 402.9,1376.2 404.4,1379.6 405.8,1382.7 407.3,1385.4 408.7,1387.7 410.2,1389.6 411.6,1391.1 413.1,1392.1 414.5,1392.8 416.0,1393.0 419.5,1388.0 419.5,1225.7 421.6,1241.0 423.0,1241.1 424.5,1241.4 425.9,1241.9 427.3,1242.7 428.7,1243.6 430.2,1244.7 431.6,1246.0 433.0,1247.5 434.5,1249.2 435.9,1251.1 437.3,1253.1 438.7,1255.3 440.2,1257.7 441.6,1260.1 443.0,1262.8 444.4,1265.5 445.9,1268.4 447.3,1271.3 448.7,1274.4 450.2,1277.5 451.6,1280.7 453.0,1283.9 454.4,1287.2 455.9,1290.5 457.3,1293.8 458.7,1305.9 460.1,1318.0 461.5,1330.0 462.9,1341.9 464.3,1353.6 465.7,1365.1 467.1,1376.3 468.5,1387.3 469.9,1397.8 471.3,1408.0 472.7,1417.8 474.1,1427.2 475.6,1436.0 477.0,1444.3 478.4,1452.1 479.8,1459.3 481.2,1465.9 482.6,1471.9 484.0,1477.2 485.4,1481.8 486.8,1485.8 488.2,1489.1 489.6,1491.6 491.0,1493.4 492.4,1494.5 493.8,1494.9 495.2,1494.5 496.7,1493.4 498.1,1491.6 499.5,1489.0 500.9,1485.7 502.4,1481.7 503.8,1477.1 505.2,1471.7 506.6,1465.7 508.1,1459.1 509.5,1451.8 510.9,1444.0 512.4,1435.6 513.8,1426.7 515.2,1417.3 516.6,1407.4 518.1,1397.2 519.5,1386.5 520.9,1375.5 522.3,1364.2 523.8,1352.6 525.2,1340.9 526.6,1328.9 528.0,1316.8 529.5,1304.6 530.9,1292.4 532.3,1305.1 533.7,1317.8 535.1,1330.3 536.5,1342.8 537.9,1355.0 539.3,1366.9 540.7,1378.6 542.1,1390.0 543.5,1400.9 544.9,1411.4 546.3,1421.5 547.7,1431.0 549.0,1440.0 550.4,1448.4 551.8,1456.2 553.2,1463.4 554.6,1469.9 556.0,1475.6 557.4,1480.7 558.8,1485.0 560.2,1488.5 561.6,1491.3 563.0,1493.3 564.4,1494.5 565.8,1494.9 567.2,1494.6 568.6,1493.5 570.1,1491.8 571.5,1489.4 572.9,1486.4 574.3,1482.7 575.7,1478.3 577.1,1473.4 578.6,1467.8 580.0,1461.6 581.4,1454.8 582.8,1447.5 584.2,1439.7 585.7,1431.4 587.1,1422.6 588.5,1413.3 589.9,1403.7 591.3,1393.7 592.8,1383.3 594.2,1372.6 595.6,1361.7 597.0,1350.5 598.4,1339.1 599.8,1327.6 601.3,1315.9 602.7,1304.2 604.1,1292.4 605.5,1298.4 606.9,1304.5 608.4,1310.5 609.8,1316.4 611.2,1322.2 612.6,1327.9 614.0,1333.5 615.5,1339.0 616.9,1344.2 618.3,1349.3 619.7,1354.2 621.1,1358.8 622.5,1363.3 624.0,1367.4 625.4,1371.3 626.8,1374.9 628.2,1378.1 629.6,1381.1 631.1,1383.8 632.5,1386.1 633.9,1388.1 635.3,1389.7 636.7,1391.0 638.2,1391.9 639.6,1392.4 641.0,1392.6 642.5,1392.4 643.9,1391.8 645.4,1390.8 646.8,1389.4 648.3,1387.7 649.7,1385.5 651.2,1383.0 652.6,1380.1 654.1,1376.9 655.5,1373.4 657.0,1369.5 658.4,1365.3 659.9,1360.8 661.4,1356.1 662.8,1351.1 664.3,1345.8 665.7,1340.4 667.2,1334.7 668.6,1328.9 670.1,1323.0 671.5,1316.9 673.0,1310.7 674.4,1304.5 675.9,1298.2 677.4,1291.8 678.8,1285.5 680.3,1279.2 681.7,1273.0 683.2,1266.8 684.6,1260.7 686.1,1254.8 687.5,1249.0 689.0,1243.3 690.4,1237.9 691.9,1232.6 693.3,1227.6 694.8,1222.9 696.3,1218.4 697.7,1214.2 699.2,1210.3 700.6,1206.8 702.1,1203.6 703.5,1200.7 705.0,1198.2 706.4,1196.0 707.9,1194.3 709.3,1192.9 710.8,1191.9 712.2,1191.3 713.7,1191.1 715.0,1191.3 716.3,1191.8 717.7,1192.6 719.0,1193.7 720.3,1195.1 721.6,1196.8 723.0,1198.7 724.3,1200.9 725.6,1203.3 726.9,1205.8 728.2,1208.5 729.6,1211.3 730.9,1214.2 732.2,1217.1 733.5,1345.5 735.0,1332.5 750.7,1296.5 752.1,1285.0 753.5,1273.6 755.0,1262.2 756.4,1251.0 757.8,1239.9 759.2,1228.9 760.6,1218.2 762.0,1207.7 763.5,1197.5 764.9,1187.6 766.3,1178.1 767.7,1168.9 769.1,1160.2 770.5,1151.8 772.0,1143.9 773.4,1136.5 774.8,1129.6 776.2,1123.3 777.6,1117.4 779.1,1112.2 780.5,1107.5 781.9,1103.4 783.3,1099.9 784.7,1097.0 786.1,1094.8 787.6,1093.2 789.0,1092.2 790.4,1091.9 791.8,1092.3 793.2,1093.5 794.6,1095.5 796.0,1098.3 797.4,1101.9 798.8,1106.2 800.3,1111.2 801.7,1117.0 803.1,1123.5 804.5,1130.7 805.9,1138.6 807.3,1147.0 808.7,1156.0 810.1,1165.6 811.5,1175.7 812.9,1186.3 814.3,1197.3 815.7,1208.6 817.2,1220.4 818.6,1232.4 820.0,1244.6 821.4,1257.1 822.8,1269.7 824.2,1282.4 825.6,1295.2 827.0,1282.4 828.4,1269.7 829.8,1257.1 831.2,1244.6 832.6,1232.4 834.0,1220.4 835.4,1208.6 836.8,1197.3 838.2,1186.3 839.6,1175.7 841.0,1165.6 842.4,1156.0 843.7,1147.0 845.1,1138.6 846.5,1130.7 847.9,1123.5 849.3,1117.0 850.7,1111.2 852.1,1106.2 853.5,1101.9 854.9,1098.3 856.3,1095.5 857.7,1093.5 859.1,1092.3 860.5,1091.9 861.9,1092.2 863.3,1093.2 864.7,1094.8 866.1,1097.0 867.5,1099.8 868.9,1103.3 870.3,1107.3 871.7,1112.0 873.1,1117.2 874.5,1123.0 875.9,1129.3 877.3,1136.1 878.7,1143.4 880.1,1151.2 881.6,1159.5 883.0,1168.2 884.4,1177.3 885.8,1186.7 887.2,1196.5 888.6,1206.6 890.0,1217.0 891.4,1227.6 892.8,1238.4 894.2,1249.4 895.6,1260.6 897.0,1271.8 898.4,1283.1 899.8,1294.5 901.2,1288.2 902.7,1282.0 904.1,1275.8 905.5,1269.6 907.0,1263.6 908.4,1257.7 909.9,1251.9 911.3,1246.3 912.7,1240.9 914.2,1235.7 915.6,1230.8 917.0,1226.0 918.5,1221.6 919.9,1217.4 921.3,1213.6 922.8,1210.1 924.2,1206.9 925.6,1204.0 927.1,1201.5 928.5,1199.4 930.0,1197.6 931.4,1196.3 932.8,1195.3 934.3,1194.7 935.7,1194.5 937.2,1194.7 938.6,1195.3 940.1,1196.2 941.5,1197.5 943.0,1199.2 944.4,1201.3 945.9,1203.7 947.3,1206.4 948.8,1209.5 950.2,1212.9 951.7,1216.7 953.1,1220.7 954.6,1225.0 956.0,1229.6 957.5,1234.4 958.9,1239.4 960.4,1244.7 961.8,1250.1 963.3,1255.7 964.7,1261.5 966.2,1267.4 967.6,1273.4 969.1,1279.5 970.5,1285.6 972.0,1291.8 973.4,1297.9 974.9,1304.1 976.3,1310.2 977.8,1316.3 979.2,1322.3 980.7,1328.2 982.1,1334.0 983.6,1339.6 985.0,1345.0 986.5,1350.3 987.9,1355.3 989.4,1360.1 990.8,1364.7 992.3,1369.0 993.7,1373.0 995.2,1376.8 996.6,1380.2 998.1,1383.3 999.5,1386.0 1001.0,1388.4 1002.4,1390.5 1003.9,1392.2 1005.3,1393.5 1006.8,1394.4 1008.2,1395.0 1009.7,1395.2 1011.1,1395.0 1012.4,1394.5 1013.8,1393.6 1015.2,1392.3 1016.5,1390.7 1017.9,1388.8 1019.2,1386.6 1020.6,1384.1 1022.0,1381.3 1023.3,1378.4 1024.7,1375.2 1026.0,1371.8 1027.4,1368.3 1028.8,1364.7 1030.1,1361.0 1031.5,1357.3 1031.5,1261.5 1034.0,1275.5 1041.7,1295.0 1048.1,1302.0 1049.5,1314.6 1051.0,1327.2 1052.4,1339.6 1053.8,1351.9 1055.3,1364.0 1056.7,1375.8 1058.1,1387.3 1059.6,1398.5 1061.0,1409.2 1062.4,1419.4 1063.9,1429.2 1065.3,1438.4 1066.7,1447.0 1068.2,1455.0 1069.6,1462.4 1071.0,1469.1 1072.5,1475.0 1073.9,1480.2 1075.3,1484.7 1076.8,1488.3 1078.2,1491.2 1079.6,1493.2 1081.1,1494.5 1082.5,1494.9 1083.9,1494.6 1085.3,1493.5 1086.8,1491.8 1088.2,1489.4 1089.6,1486.4 1091.0,1482.7 1092.4,1478.3 1093.8,1473.4 1095.3,1467.8 1096.7,1461.6 1098.1,1454.8 1099.5,1447.5 1100.9,1439.7 1102.4,1431.4 1103.8,1422.6 1105.2,1413.3 1106.6,1403.7 1108.0,1393.7 1109.5,1383.3 1110.9,1372.6 1112.3,1361.7 1113.7,1350.5 1115.1,1339.1 1116.5,1327.6 1118.0,1315.9 1119.4,1304.2 1120.8,1292.4 1122.2,1305.1 1123.7,1317.8 1125.1,1330.3 1126.5,1342.8 1127.9,1355.0 1129.4,1366.9 1130.8,1378.6 1132.2,1390.0 1133.7,1400.9 1135.1,1411.4 1136.5,1421.5 1137.9,1431.0 1139.4,1440.0 1140.8,1448.4 1142.2,1456.2 1143.6,1463.4 1145.1,1469.9 1146.5,1475.6 1147.9,1480.7 1149.4,1485.0 1150.8,1488.5 1152.2,1491.3 1153.6,1493.3 1155.1,1494.5 1156.5,1494.9 1157.9,1494.6 1159.3,1493.5 1160.8,1491.8 1162.2,1489.4 1163.6,1486.4 1165.0,1482.7 1166.5,1478.3 1167.9,1473.4 1169.3,1467.8 1170.7,1461.6 1172.1,1454.8 1173.6,1447.5 1175.0,1439.7 1176.4,1431.4 1177.8,1422.6 1179.3,1413.3 1180.7,1403.7 1182.1,1393.7 1183.5,1383.3 1184.9,1372.6 1186.4,1361.7 1187.8,1350.5 1189.2,1339.1 1190.6,1327.6 1192.1,1315.9 1193.5,1304.2 1194.9,1292.4 1196.3,1298.4 1197.7,1304.5 1199.1,1310.5 1200.6,1316.4 1202.0,1322.2 1203.4,1327.9 1204.8,1333.5 1206.2,1339.0 1207.6,1344.2 1209.1,1349.3 1210.5,1354.2 1211.9,1358.8 1213.3,1363.3 1214.7,1367.4 1216.1,1371.3 1217.5,1374.9 1219.0,1378.1 1220.4,1381.1 1221.8,1383.8 1223.2,1386.1 1224.6,1388.1 1226.0,1389.7 1227.5,1391.0 1228.9,1391.9 1230.3,1392.4 1231.7,1392.6 1233.2,1392.4 1234.6,1391.8 1236.1,1390.9 1237.5,1389.6 1239.0,1387.9 1240.4,1385.9 1241.9,1383.5 1243.3,1380.7 1244.8,1377.7 1246.2,1374.3 1247.7,1370.6 1249.1,1366.6 1250.6,1362.3 1252.0,1357.8 1253.5,1353.0 1254.9,1348.0 1256.4,1342.8 1257.9,1337.3 1259.3,1331.8 1260.8,1326.0 1262.2,1320.2 1263.7,1314.2 1265.1,1308.2 1266.6,1302.1 1268.0,1296.0 1269.5,1289.8 1270.9,1283.7 1272.4,1277.6 1273.8,1271.6 1275.3,1265.6 1276.7,1259.8 1278.2,1254.0 1279.6,1248.5 1281.1,1243.0 1282.6,1237.8 1284.0,1232.8 1285.5,1228.0 1286.9,1223.5 1288.4,1219.2 1289.8,1215.2 1291.3,1211.5 1292.7,1208.1 1294.2,1205.1 1295.6,1202.3 1297.1,1199.9 1298.5,1197.9 1300.0,1196.2 1301.4,1194.9 1302.9,1194.0 1304.3,1193.4 1305.8,1193.2 1307.1,1193.3 1308.4,1193.8 1309.7,1194.5 1311.0,1195.5 1312.3,1196.8 1313.6,1198.3 1314.9,1200.0 1316.3,1202.0 1317.6,1204.2 1318.9,1206.5 1320.2,1209.0 1321.5,1211.6 1322.8,1214.3 1324.1,1217.0 1325.4,1219.8 1325.6,1342.8 1327.1,1329.8 1344.1,1296.5 1345.5,1284.9 1346.9,1273.4 1348.4,1261.9 1349.8,1250.5 1351.2,1239.3 1352.6,1228.3 1354.1,1217.6 1355.5,1207.1 1356.9,1196.9 1358.3,1187.0 1359.7,1177.5 1361.2,1168.4 1362.6,1159.7 1364.0,1151.5 1365.4,1143.8 1366.9,1136.6 1368.3,1130.0 1369.7,1123.9 1371.1,1118.4 1372.5,1113.5 1374.0,1109.2 1375.4,1105.6 1376.8,1102.6 1378.2,1100.2 1379.7,1098.5 1381.1,1097.5 1382.5,1097.2 1383.9,1097.6 1385.4,1098.7 1386.8,1100.7 1388.2,1103.3 1389.6,1106.8 1391.1,1110.9 1392.5,1115.8 1393.9,1121.4 1395.4,1127.6 1396.8,1134.5 1398.2,1142.0 1399.6,1150.2 1401.1,1158.8 1402.5,1168.0 1403.9,1177.7 1405.3,1187.9 1406.8,1198.5 1408.2,1209.4 1409.6,1220.7 1411.1,1232.2 1412.5,1244.0 1413.9,1256.0 1415.3,1268.1 1416.8,1280.3 1418.2,1292.6 1419.6,1280.8 1421.0,1269.0 1422.4,1257.4 1423.8,1245.8 1425.2,1234.5 1426.6,1223.3 1428.0,1212.4 1429.4,1201.8 1430.8,1191.5 1432.2,1181.6 1433.6,1172.1 1435.0,1163.0 1436.5,1154.4 1437.9,1146.3 1439.3,1138.8 1440.7,1131.8 1442.1,1125.4 1443.5,1119.6 1444.9,1114.4 1446.3,1109.9 1447.7,1106.0 1449.1,1102.9 1450.5,1100.4 1451.9,1098.6 1453.3,1097.6 1454.7,1097.2 1456.1,1097.5 1457.6,1098.5 1459.0,1100.2 1460.4,1102.5 1461.9,1105.4 1463.3,1109.0 1464.8,1113.2 1466.2,1118.0 1467.6,1123.4 1469.1,1129.3 1470.5,1135.9 1471.9,1142.9 1473.4,1150.5 1474.8,1158.5 1476.3,1167.0 1477.7,1175.9 1479.1,1185.2 1480.6,1194.9 1482.0,1204.9 1483.4,1215.2 1484.9,1225.8 1486.3,1236.6 1487.8,1247.5 1489.2,1258.7 1490.6,1269.9 1492.1,1281.2 1493.5,1292.6 1494.9,1286.8 1496.3,1280.9 1497.8,1275.2 1499.2,1269.4 1500.6,1263.8 1502.0,1258.3 1503.4,1252.9 1504.9,1247.6 1506.3,1242.5 1507.7,1237.6 1509.1,1232.9 1510.5,1228.4 1512.0,1224.2 1513.4,1220.1 1514.8,1216.4 1516.2,1212.9 1517.6,1209.8 1519.0,1206.9 1520.5,1204.3 1521.9,1202.1 1523.3,1200.2 1524.7,1198.6 1526.1,1197.4 1527.6,1196.5 1529.0,1196.0 1530.4,1195.8 1531.9,1196.0 1533.3,1196.5 1534.8,1197.5 1536.2,1198.8 1537.7,1200.4 1539.1,1202.4 1540.6,1204.8 1542.0,1207.5 1543.5,1210.5 1544.9,1213.8 1546.4,1217.5 1547.8,1221.4 1549.3,1225.6 1550.7,1230.0 1552.2,1234.7 1553.6,1239.7 1555.1,1244.8 1556.5,1250.1 1558.0,1255.6 1559.4,1261.2 1560.9,1267.0 1562.3,1272.8 1563.8,1278.8 1565.2,1284.8 1566.7,1290.8 1568.1,1296.8 1569.6,1302.8 1571.0,1308.8 1572.5,1314.8 1573.9,1320.6 1575.4,1326.4 1576.8,1332.0 1578.3,1337.5 1579.7,1342.8 1581.2,1347.9 1582.6,1352.9 1584.1,1357.6 1585.5,1362.0 1587.0,1366.2 1588.4,1370.1 1589.9,1373.8 1591.3,1377.1 1592.8,1380.1 1594.2,1382.8 1595.7,1385.2 1597.1,1387.2 1598.6,1388.8 1600.0,1390.1 1601.5,1391.1 1602.9,1391.6 1604.4,1391.8 1605.8,1391.6 1607.2,1391.1 1608.6,1390.3 1610.0,1389.1 1611.3,1387.6 1612.7,1385.8 1614.1,1383.7 1615.5,1381.3 1616.9,1378.7 1618.3,1375.9 1619.7,1372.9 1621.0,1369.7 1622.4,1366.4 1623.8,1363.0 1625.2,1359.5 1626.6,1356.0 1626.9,1262.0 1629.4,1276.0 1637.1,1295.5 1643.5,1302.5 1644.9,1314.2 1646.3,1325.8 1647.7,1337.3 1649.1,1348.7 1650.5,1359.9 1651.9,1370.9 1653.3,1381.6 1654.7,1392.0 1656.1,1402.1 1657.5,1411.7 1658.9,1420.9 1660.3,1429.7 1661.7,1437.9 1663.1,1445.7 1664.5,1452.8 1665.9,1459.4 1667.3,1465.3 1668.7,1470.6 1670.1,1475.3 1671.5,1479.2 1672.9,1482.5 1674.3,1485.0 1675.7,1486.8 1677.1,1487.9 1678.5,1488.3 1679.9,1488.0 1681.3,1487.0 1682.8,1485.3 1684.2,1483.0 1685.6,1480.1 1687.0,1476.5 1688.4,1472.3 1689.8,1467.5 1691.3,1462.1 1692.7,1456.1 1694.1,1449.5 1695.5,1442.5 1696.9,1434.9 1698.4,1426.8 1699.8,1418.3 1701.2,1409.4 1702.6,1400.0 1704.0,1390.4 1705.5,1380.3 1706.9,1370.0 1708.3,1359.4 1709.7,1348.6 1711.1,1337.6 1712.5,1326.4 1714.0,1315.1 1715.4,1303.8 1716.8,1292.4 1718.2,1304.2 1719.6,1316.0 1721.0,1327.7 1722.4,1339.3 1723.8,1350.7 1725.2,1361.9 1726.6,1372.8 1728.0,1383.4 1729.4,1393.7 1730.8,1403.7 1732.2,1413.2 1733.6,1422.3 1734.9,1430.9 1736.3,1439.0 1737.7,1446.6 1739.1,1453.6 1740.5,1460.0 1741.9,1465.9 1743.3,1471.0 1744.7,1475.6 1746.1,1479.4 1747.5,1482.6 1748.9,1485.1 1750.3,1486.9 1751.7,1487.9 1753.1,1488.3 1754.5,1488.0 1755.9,1487.0 1757.3,1485.3 1758.7,1483.0 1760.1,1480.1 1761.5,1476.5 1762.9,1472.3 1764.3,1467.5 1765.7,1462.1 1767.1,1456.1 1768.5,1449.5 1769.9,1442.5 1771.3,1434.9 1772.7,1426.8 1774.1,1418.3 1775.5,1409.4 1776.9,1400.0 1778.3,1390.4 1779.7,1380.3 1781.1,1370.0 1782.5,1359.4 1783.9,1348.6 1785.3,1337.6 1786.7,1326.4 1788.1,1315.1 1789.5,1303.8 1790.9,1292.4 1792.3,1298.0 1793.7,1303.6 1795.1,1309.2 1796.6,1314.7 1798.0,1320.1 1799.4,1325.5 1800.8,1330.7 1802.2,1335.8 1803.6,1340.8 1805.0,1345.5 1806.5,1350.1 1807.9,1354.6 1809.3,1358.8 1810.7,1362.7 1812.1,1366.5 1813.5,1370.0 1815.0,1373.2 1816.4,1376.1 1817.8,1378.8 1819.2,1381.2 1820.6,1383.3 1822.0,1385.0 1823.4,1386.5 1824.9,1387.6 1826.3,1388.4 1827.7,1388.9 1829.1,1389.1 1830.6,1388.9 1832.0,1388.3 1833.5,1387.4 1834.9,1386.0 1836.4,1384.3 1837.8,1382.2 1839.3,1379.8 1840.8,1377.0 1842.2,1373.9 1843.7,1370.5 1845.1,1366.8 1846.6,1362.7 1848.1,1358.4 1849.5,1353.9 1851.0,1349.1 1852.4,1344.1 1853.9,1338.9 1855.3,1333.5 1856.8,1328.0 1858.3,1322.4 1859.7,1316.7 1861.2,1310.8 1862.6,1305.0 1864.1,1299.1 1865.6,1293.2 1867.0,1287.4 1868.5,1281.5 1869.9,1275.8 1871.4,1270.2 1872.8,1264.7 1874.3,1259.3 1875.8,1254.1 1877.2,1249.1 1878.7,1244.3 1880.1,1239.8 1881.6,1235.5 1883.1,1231.4 1884.5,1227.7 1886.0,1224.3 1887.4,1221.2 1888.9,1218.4 1890.3,1216.0 1891.8,1213.9 1893.3,1212.2 1894.7,1210.8 1896.2,1209.9 1897.6,1209.3 1899.1,1209.1 1900.4,1209.3 1901.8,1209.7 1903.1,1210.6 1904.4,1211.7 1905.8,1213.1 1907.1,1214.8 1908.4,1216.7 1909.8,1218.9 1911.1,1221.2 1912.5,1223.8 1913.8,1226.4 1915.1,1229.2 1916.5,1232.1 1917.8,1235.0 1917.8,1360.2 1919.4,1347.0 1936.0,1312.0 1937.4,1300.0 1938.8,1288.0 1940.2,1276.1 1941.6,1264.4 1943.1,1252.8 1944.5,1241.5 1945.9,1230.4 1947.3,1219.6 1948.7,1209.1 1950.1,1199.0 1951.5,1189.3 1952.9,1180.1 1954.3,1171.4 1955.8,1163.1 1957.2,1155.4 1958.6,1148.3 1960.0,1141.8 1961.4,1135.9 1962.8,1130.6 1964.2,1126.0 1965.6,1122.1 1967.1,1118.9 1968.5,1116.4 1969.9,1114.6 1971.3,1113.5 1972.7,1113.1 1974.1,1113.5 1975.5,1114.5 1976.9,1116.3 1978.3,1118.8 1979.7,1122.0 1981.1,1125.9 1982.4,1130.4 1983.8,1135.6 1985.2,1141.5 1986.6,1147.9 1988.0,1155.0 1989.4,1162.6 1990.8,1170.7 1992.2,1179.4 1993.6,1188.5 1995.0,1198.1 1996.4,1208.0 1997.8,1218.4 1999.2,1229.1 2000.5,1240.0 2001.9,1251.3 2003.3,1262.7 2004.7,1274.3 2006.1,1286.1 2007.5,1297.9 2008.9,1309.8 2010.3,1296.9 2011.8,1284.1 2013.2,1271.4 2014.6,1258.9 2016.1,1246.6 2017.5,1234.5 2018.9,1222.8 2020.4,1211.5 2021.8,1200.5 2023.2,1190.1 2024.7,1180.1 2026.1,1170.7 2027.5,1161.9 2029.0,1153.7 2030.4,1146.2 2031.8,1139.5 2033.3,1133.4 2034.7,1128.1 2036.1,1123.5 2037.6,1119.8 2039.0,1116.9 2040.4,1114.8 2041.9,1113.5 2043.3,1113.1 2044.7,1113.4 2046.1,1114.4 2047.6,1116.1 2049.0,1118.4 2050.4,1121.4 2051.8,1125.0 2053.2,1129.3 2054.6,1134.2 2056.1,1139.6 2057.5,1145.7 2058.9,1152.3 2060.3,1159.4 2061.7,1167.1 2063.2,1175.2 2064.6,1183.8 2066.0,1192.8 2067.4,1202.3 2068.8,1212.0 2070.3,1222.2 2071.7,1232.6 2073.1,1243.3 2074.5,1254.2 2075.9,1265.4 2077.3,1276.6 2078.8,1288.0 2080.2,1299.5 2081.6,1311.0"/>
</g>
<!-- texts -->
<g>
<text x="144.3" y="93.9" font-size="67" >220</text>
<text x="146.8" y="196.7" font-size="67" >110</text>
<text x="192.25" y="296.35" font-size="67" >0</text>
<text x="125.5" y="394.75" font-size="67" >-110</text>
<text x="127.5" y="489.35" font-size="67" >-220</text>
<text x="145.2" y="606.35" font-size="67" >220</text>
<text x="147.6" y="709.05" font-size="67" >110</text>
<text x="193.4" y="808.25" font-size="67" >0</text>
<text x="126.4" y="906.95" font-size="67" >-110</text>
<text x="128.2" y="998.85" font-size="67" >-220</text>
<text x="144.2" y="1118.25" font-size="67" >220</text>
<text x="146.5" y="1220.95" font-size="67" >110</text>
<text x="192.45" y="1319.35" font-size="67" >0</text>
<text x="126.2" y="1418.25" font-size="67" >-110</text>
<text x="127.8" y="1512.05" font-size="67" >-220</text>
<text x="571.9" y="1629.25" font-size="67" >30</text>
<text x="873.5" y="1634.45" font-size="67" >60</text>
<text x="1173.4" y="1634.35" font-size="67" >90</text>
<text x="1459.6" y="1629.55" font-size="67" >120</text>
<text x="1753.8" y="1629.15" font-size="67" >150</text>
<text x="2004.6" y="1629.15" font-size="67" >180</text>
<text x="1046.5" y="1723" font-size="66.5" textLength="278.4">Time (ms)</text>
<text transform="translate(77.6,422.2) rotate(-90)" x="0" y="0" font-size="66.5" textLength="319.2">Voltage (V)</text>
<text transform="translate(81.4,930.8) rotate(-90)" x="0" y="0" font-size="66.5" textLength="319.9">Voltage (V)</text>
<text transform="translate(92.2,1466.2) rotate(-90)" x="0" y="0" font-size="66.5" textLength="322.1">Voltage (V)</text>
<text x="640" y="132.3" font-size="67.5">Phase&#8722;A</text>
<text x="770" y="643" font-size="67.5">Phase&#8722;B</text>
<text x="1008.1" y="1160.6" font-size="67.5">Phase&#8722;C</text>
<text x="1503.5" y="371.4" font-size="66.5">Motor load</text>
<text x="1576" y="451" font-size="67.5" textLength="155">effect</text>
<text x="515.25" y="1160.4" font-size="67">V</text><text x="563.95" y="1160.7" font-size="50">m</text>
<text x="1734.25" y="1155" font-size="67">V</text><text x="1782.25" y="1155.1" font-size="48">m</text>
<text x="1821.3" y="1155" font-size="67">/</text><text x="1837.4" y="1155.1" font-size="67">2</text>
</g>
</svg>
</body></html>
